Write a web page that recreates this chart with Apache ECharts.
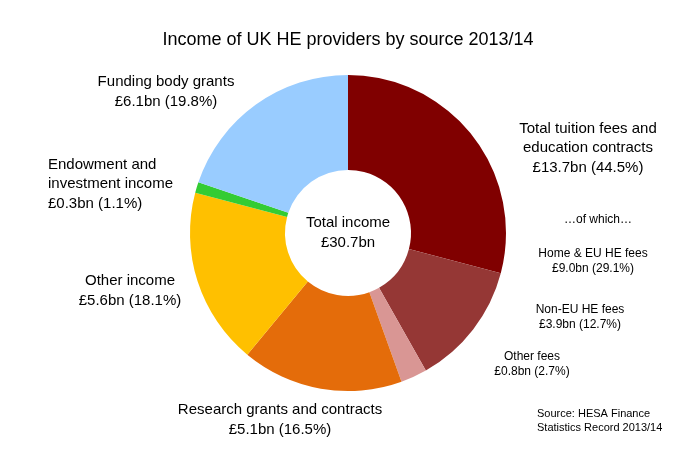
<!DOCTYPE html>
<html><head><meta charset="utf-8">
<script src="https://cdn.jsdelivr.net/npm/echarts@6/dist/echarts.min.js"></script>
<style>html,body{margin:0;padding:0;background:#fff}#c{width:696px;height:464px}</style>
</head><body><div id="c"></div>
<script>
const categories = ["Home & EU HE fees","Non-EU HE fees","Other fees","Research grants and contracts","Other income","Endowment and investment income","Funding body grants"];
const values = [29.1, 12.7, 2.7, 16.5, 18.1, 1.1, 19.8];
const colors = ["#800000","#953735","#D99694","#E46C0A","#FFC000","#33CC33","#99CCFF"];
const F = "Liberation Sans, Arial, sans-serif";
function txt(x,y,t,size,align){return {type:'text',left:undefined,x:x,y:y,style:{text:t,font:size+'px '+F,fill:'#000',align:align||'center',verticalAlign:'middle',lineHeight:size*1.3}};}
const chart = echarts.init(document.getElementById('c'));
chart.setOption({
  animation:false,
  title:{text:"Income of UK HE providers by source 2013/14",left:'center',top:26,textStyle:{fontFamily:F,fontSize:18,fontWeight:'normal',color:'#000'}},
  series:[{type:'pie',center:[348,233],radius:[63,158],startAngle:90,clockwise:true,label:{show:false},labelLine:{show:false},
    itemStyle:{borderColor:'#fff',borderWidth:0},
    data:categories.map((c,i)=>({name:c,value:values[i],itemStyle:{color:colors[i]}}))}],
  graphic:[
    txt(348,233,"Total income\n£30.7bn",15),
    txt(166,92,"Funding body grants\n£6.1bn (19.8%)",15),
    txt(48,184,"Endowment and\ninvestment income\n£0.3bn (1.1%)",15,'left'),
    txt(130,291,"Other income\n£5.6bn (18.1%)",15),
    txt(280,420,"Research grants and contracts\n£5.1bn (16.5%)",15),
    txt(588,148,"Total tuition fees and\neducation contracts\n£13.7bn (44.5%)",15),
    txt(598,220,"…of which…",12),
    txt(593,261,"Home & EU HE fees\n£9.0bn (29.1%)",12),
    txt(580,317,"Non-EU HE fees\n£3.9bn (12.7%)",12),
    txt(532,364,"Other fees\n£0.8bn (2.7%)",12),
    txt(537,421,"Source: HESA Finance\nStatistics Record 2013/14",11,'left')
  ]
});
</script></body></html>
